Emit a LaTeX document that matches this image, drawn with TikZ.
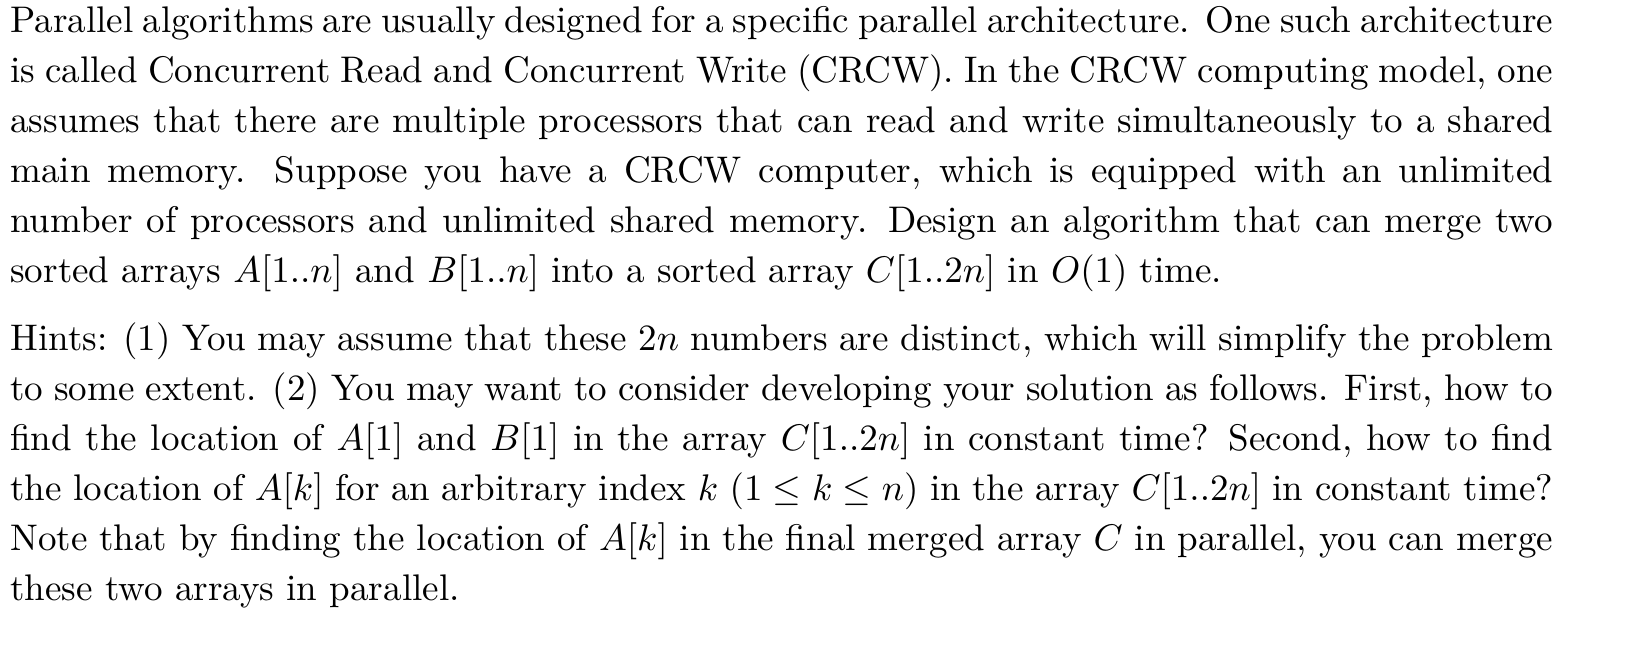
\documentclass[tikz,border=0pt]{standalone}
\usepackage{amsmath}
\begin{document}
\begin{tikzpicture}
\useasboundingbox (0,0) rectangle (446pt,-176pt);
\node[anchor=north west, inner sep=0pt, text width=416.5pt, align=justify, font=\fontsize{10}{13.5}\selectfont] (txt) at (2.6pt,-1.6pt) {%
\parskip=4.9pt\hyphenpenalty=10000\exhyphenpenalty=10000\emergencystretch=20pt
Parallel algorithms are usually designed for a specific parallel architecture. One such architecture\linebreak
is called Concurrent Read and Concurrent Write (CRCW). In the CRCW computing model, one\linebreak
assumes that there are multiple processors that can read and write simultaneously to a shared\linebreak
main memory. Suppose you have a CRCW computer, which is equipped with an unlimited\linebreak
number of processors and unlimited shared memory. Design an algorithm that can merge two\linebreak
sorted arrays $A[1..n]$ and $B[1..n]$ into a sorted array $C[1..2n]$ in $O(1)$ time.\par
Hints: (1) You may assume that these $2n$ numbers are distinct, which will simplify the problem\linebreak
to some extent. (2) You may want to consider developing your solution as follows. First, how to\linebreak
find the location of $A[1]$ and $B[1]$ in the array $C[1..2n]$ in constant time? Second, how to find\linebreak
the location of $A[k]$ for an arbitrary index $k$ $(1\le k\le n)$ in the array $C[1..2n]$ in constant time?\linebreak
Note that by finding the location of $A[k]$ in the final merged array $C$ in parallel, you can merge\linebreak
these two arrays in parallel.\par};
\end{tikzpicture}
\end{document}
